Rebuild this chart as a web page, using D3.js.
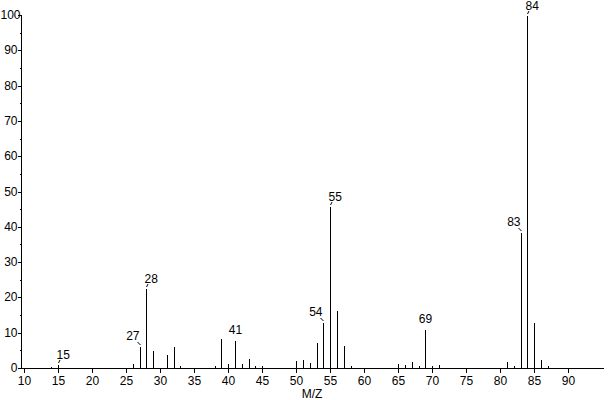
<!DOCTYPE html>
<html>
<head>
<meta charset="utf-8">
<script src="https://cdn.jsdelivr.net/npm/d3@7"></script>
<style>
  body { margin: 0; background: #fff; }
  svg { display: block; font-family: "Liberation Sans", Arial, sans-serif; }
</style>
</head>
<body>
<svg id="svg" width="608" height="400"></svg>
<script>
// peaks, m/z and relative intensity
const mz = [14, 15, 26, 27, 28, 29, 31, 32, 33, 37, 38, 39, 40, 41, 42, 43, 44, 45, 49, 50,
  51, 52, 53, 54, 55, 56, 57, 58, 65, 66, 67, 68, 69, 70, 71, 79, 81, 82, 83, 84, 85, 86, 87]
const intensity = [0.5, 1.1, 1.3, 6.3, 22.6, 5.2, 3.9, 6.1, 0.8, 0.3, 0.9, 8.5, 1.3, 7.9, 1.3, 2.7, 0.9, 0.9, 0.3, 2.3,
  2.6, 1.6, 7.5, 13, 46, 16.5, 6.6, 0.9, 1.4, 1.1, 2.0, 0.9, 11.0, 0.8, 1.1, 0.3, 2.0, 0.9, 38.6, 100, 13.0, 2.5, 0.9]
// peaks that get a number on top
const labelled = [15, 27, 28, 41, 54, 55, 69, 83, 84]
const xTicks = [10, 15, 20, 25, 30, 35, 40, 45, 50, 55, 60, 65, 70, 75, 80, 85, 90]
const yTicks = [0, 10, 20, 30, 40, 50, 60, 70, 80, 90, 100]
const yMinorTicks = [5, 15, 25, 35, 45, 55, 65, 75, 85, 95]
const xTitle = "M/Z"

// where the label sits relative to its peak (left ones get a "\" leader, right ones a "/")
const labelSide = { 15: "right", 27: "left", 28: "right", 41: "center", 54: "left", 55: "right", 69: "center", 83: "left", 84: "right" }

const svg = d3.select("#svg")

const x = d3.scaleLinear().domain([10, 90]).range([24, 568.3])
const y = d3.scaleLinear().domain([0, 100]).range([368, 15])
const left = 21, right = 603

const px = v => Math.round(v) + 0.5

const g = svg.append("g").attr("shape-rendering", "crispEdges")

// y axis ticks via d3, the line itself is drawn below
const yAxis = g.append("g")
  .attr("transform", "translate(" + (left + 0.5) + ",0.5)")
  .call(d3.axisLeft(y).tickValues(yTicks).tickSize(4).tickPadding(0).tickSizeOuter(0))
yAxis.select(".domain").remove()
yAxis.append("g")
  .selectAll("line")
  .data(yMinorTicks)
  .join("line")
  .attr("x1", -2).attr("x2", 0)
  .attr("y1", d => Math.round(y(d))).attr("y2", d => Math.round(y(d)))
  .attr("stroke", "#000")
// "100" is wider, it runs over its tick a bit like the original
yAxis.selectAll(".tick").filter(d => d === 100).select("text").attr("x", -1)

const xAxis = g.append("g")
  .attr("transform", "translate(0.5," + (y(0) + 0.5) + ")")
  .call(d3.axisBottom(x).tickValues(xTicks).tickSize(4).tickPadding(4).tickSizeOuter(0))
xAxis.select(".domain").remove()
xAxis.selectAll(".tick").attr("transform", d => "translate(" + Math.round(x(d)) + ",0)")
yAxis.selectAll(".tick").attr("transform", d => "translate(0," + Math.round(y(d)) + ")")

svg.selectAll(".tick text").attr("font-size", 12).attr("fill", "#000").attr("font-family", "Liberation Sans, Arial, sans-serif")
svg.selectAll(".tick line").attr("stroke", "#000")

// axis lines
g.append("line").attr("x1", px(left)).attr("x2", px(left)).attr("y1", px(y(100))).attr("y2", px(y(0))).attr("stroke", "#000")
g.append("line").attr("x1", px(left)).attr("x2", px(right)).attr("y1", px(y(0))).attr("y2", px(y(0))).attr("stroke", "#000")

// the sticks
const peaks = mz.map((m, i) => ({ mz: m, value: intensity[i] }))
g.selectAll(".peak")
  .data(peaks)
  .join("line")
  .attr("class", "peak")
  .attr("x1", d => px(x(d.mz))).attr("x2", d => px(x(d.mz)))
  .attr("y1", px(y(0))).attr("y2", d => px(y(d.value)))
  .attr("stroke", "#000")

// labels + little leaders
const lab = svg.append("g")
peaks.filter(d => labelled.includes(d.mz)).forEach(d => {
  const bx = Math.round(x(d.mz)) + 0.5
  const top = Math.round(y(d.value))
  const side = labelSide[d.mz]
  if (side === "left") {
    lab.append("line").attr("x1", bx - 3).attr("y1", top - 4).attr("x2", bx).attr("y2", top - 1).attr("stroke", "#000")
    lab.append("text").attr("x", bx - 1).attr("y", top - 6).attr("text-anchor", "end").text(d.mz)
  } else if (side === "right") {
    lab.append("line").attr("x1", bx).attr("y1", top - 1).attr("x2", bx + 1.5).attr("y2", top - 4).attr("stroke", "#000")
    lab.append("text").attr("x", bx - 2).attr("y", top - 5).attr("text-anchor", "start").text(d.mz)
  } else {
    lab.append("text").attr("x", bx).attr("y", top - 6).attr("text-anchor", "middle").text(d.mz)
  }
})
lab.selectAll("text").attr("font-size", 12).attr("fill", "#000")

svg.append("text")
  .attr("x", (left + right) / 2)
  .attr("y", 398)
  .attr("text-anchor", "middle")
  .attr("font-size", 12)
  .text(xTitle)
</script>
</body>
</html>
